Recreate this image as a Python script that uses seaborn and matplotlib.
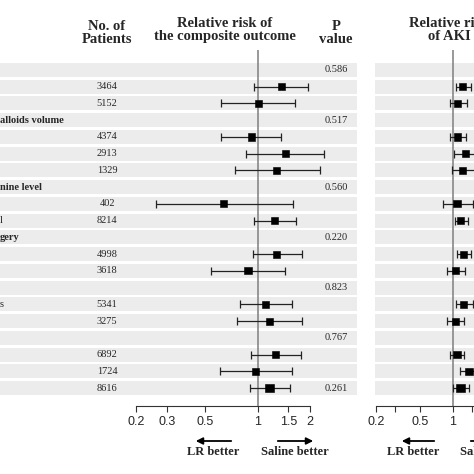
import numpy as np
import pandas as pd
import seaborn as sns
import matplotlib.pyplot as plt
from matplotlib.patches import Rectangle

# rows top to bottom; '' = subgroup header row
row_labels = ['', '', '', 'alloids volume', '', '', '', 'nine level', '', 'l', 'gery',
              '', '', '', 's', '', '', '', '', '']
header_rows = [0, 3, 7, 10, 13, 16]
n_patients = ['', '3464', '5152', '', '4374', '2913', '1329', '', '402', '8214', '',
              '4998', '3618', '', '5341', '3275', '', '6892', '1724', '8616']
p_values = ['0.586', '', '', '0.517', '', '', '', '0.560', '', '', '0.220',
            '', '', '0.823', '', '', '0.767', '', '', '0.261']
data_rows = [1, 2, 4, 5, 6, 8, 9, 11, 12, 14, 15, 17, 18, 19]

comp_rr = [1.37, 1.01, 0.92, 1.45, 1.29, 0.64, 1.25, 1.29, 0.88, 1.11, 1.17, 1.27, 0.97, 1.17]
comp_lo = [0.95, 0.62, 0.62, 0.86, 0.74, 0.26, 0.95, 0.94, 0.54, 0.79, 0.76, 0.92, 0.61, 0.90]
comp_hi = [1.96, 1.65, 1.37, 2.40, 2.27, 1.59, 1.67, 1.79, 1.43, 1.57, 1.81, 1.77, 1.57, 1.53]

aki_rr = [1.23, 1.11, 1.11, 1.29, 1.23, 1.09, 1.18, 1.26, 1.06, 1.26, 1.06, 1.09, 1.40, 1.18]
aki_lo = [1.06, 0.94, 0.94, 1.02, 0.98, 0.81, 1.04, 1.09, 0.88, 1.06, 0.88, 0.94, 1.16, 1.00]
aki_hi = [1.46, 1.34, 1.31, 1.60, 1.60, 1.52, 1.37, 1.45, 1.29, 1.52, 1.26, 1.26, 1.70, 1.40]

ticks_left = [0.2, 0.3, 0.5, 1, 1.5, 2]
labels_left = ['0.2', '0.3', '0.5', '1', '1.5', '2']
ticks_right = [0.2, 0.3, 0.5, 1, 1.5, 2]
labels_right = ['0.2', '', '0.5', '1', '', '']

sns.set_style('white')
plt.rcParams['font.family'] = ['Liberation Serif', 'DejaVu Serif']

W = 474
fig = plt.figure(figsize=(4.74, 4.74), dpi=100)

def fx(px):
    return px / W

def fy(py):
    return 1 - py / W

row_y0, row_dy = 70, 16.74

# stripes and row texts
for i in range(20):
    yc = row_y0 + i * row_dy
    for x0, x1 in [(0, 357), (375, 480)]:
        fig.add_artist(Rectangle((fx(x0), fy(yc + 7)), fx(x1 - x0), 14 / W,
                                 transform=fig.transFigure, color='#ececec', lw=0, zorder=0))
    if row_labels[i]:
        fig.text(fx(0), fy(yc), row_labels[i], va='center', ha='left', fontsize=7.5,
                 fontweight='bold' if i in header_rows else 'normal')
    if n_patients[i]:
        fig.text(fx(107), fy(yc), n_patients[i], va='center', ha='center', fontsize=7.5)
    if p_values[i]:
        fig.text(fx(336), fy(yc), p_values[i], va='center', ha='center', fontsize=7.5)

# headers
hdr = dict(ha='center', va='center', fontsize=10.5, fontweight='bold', linespacing=1.0)
fig.text(fx(107), fy(33), 'No. of\nPatients', **hdr)
fig.text(fx(225), fy(30), 'Relative risk of\nthe composite outcome', **hdr)
fig.text(fx(336), fy(33), 'P\nvalue', **hdr)
fig.text(fx(449), fy(30), 'Relative risk\nof AKI', **hdr)

ylim = ((406 - row_y0) / row_dy, (50 - row_y0) / row_dy)


def forest(left_px, px_per_dec, rr, lo, hi, ticks, labels):
    ax = fig.add_axes([fx(left_px), fy(406), fx(px_per_dec), (406 - 50) / W])
    ax.patch.set_alpha(0)
    ax.set_xscale('log')
    ax.set_xlim(0.2, 2)
    ax.set_ylim(*ylim)
    df = pd.DataFrame({'rr': rr, 'lo': lo, 'hi': hi, 'row': data_rows})
    ax.axvline(1, color='#888888', lw=1.2, zorder=1)
    ax.errorbar(df['rr'], df['row'], xerr=[df['rr'] - df['lo'], df['hi'] - df['rr']],
                fmt='none', ecolor='#222222', elinewidth=0.9, capsize=3, capthick=0.9,
                clip_on=False, zorder=2)
    sizes = [40 if r == 19 else 26 for r in data_rows]
    sns.scatterplot(data=df, x='rr', y='row', marker='s', color='black', s=sizes,
                    edgecolor='black', legend=False, ax=ax, zorder=3, clip_on=False)
    for s in ['top', 'right', 'left']:
        ax.spines[s].set_visible(False)
    ax.spines['bottom'].set_color('#333333')
    ax.set_yticks([])
    ax.set_xticks(ticks)
    ax.set_xticks([], minor=True)
    ax.set_xticklabels(labels, fontfamily='Liberation Sans', fontsize=9)
    ax.tick_params(axis='x', direction='out', length=4, color='#333333', pad=3, bottom=True)
    ax.set_xlabel('')
    ax.set_ylabel('')
    return ax

forest(136, 174, comp_rr, comp_lo, comp_hi, ticks_left, labels_left)
forest(376, 110, aki_rr, aki_lo, aki_hi, ticks_right, labels_right)

# direction arrows
for x_from, x_to, label, xt in [(234, 193, 'LR better', 213), (275, 316, 'Saline better', 295),
                                (437, 399, 'LR better', 413), (468, 510, 'Saline better', 494)]:
    fig.add_artist(plt.Annotation('', xy=(fx(x_to), fy(441)), xytext=(fx(x_from), fy(441)),
                                  xycoords='figure fraction', textcoords='figure fraction',
                                  arrowprops=dict(arrowstyle='-|>', color='black', lw=1.3,
                                                  mutation_scale=10)))
    fig.text(fx(xt), fy(452), label, ha='center', va='center', fontsize=9, fontweight='bold')

fig.savefig('out.png', dpi=100)
